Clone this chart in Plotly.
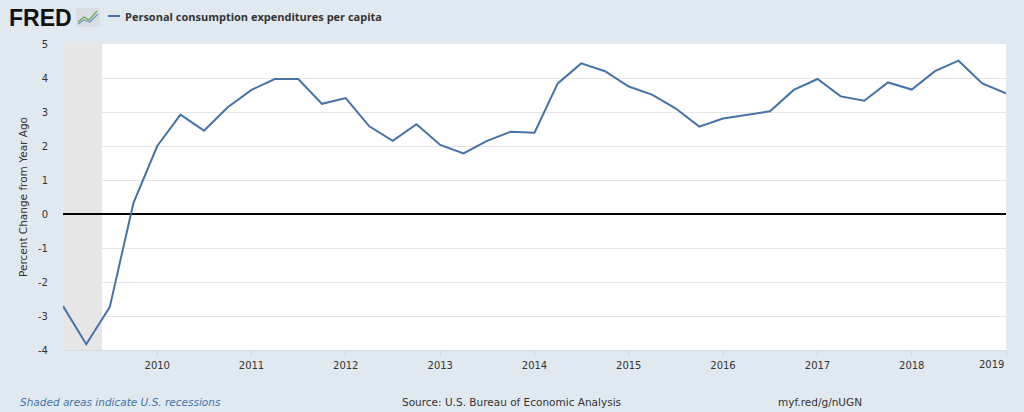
import plotly.graph_objects as go

dates = [f"{y}-{m:02d}-01" for y in range(2009, 2019) for m in (1, 4, 7, 10)] + ["2019-01-01"]
values = [-2.71, -3.83, -2.74, 0.33,
          2.00, 2.92, 2.45, 3.14,
          3.65, 3.97, 3.97, 3.24,
          3.41, 2.58, 2.15, 2.64,
          2.03, 1.78, 2.15, 2.42,
          2.39, 3.84, 4.43, 4.20,
          3.75, 3.51, 3.11, 2.57,
          2.81, 2.92, 3.02, 3.65,
          3.97, 3.46, 3.33, 3.87,
          3.66, 4.20, 4.51, 3.84,
          3.55]
recession = ("2009-01-01", "2009-06-01")
xtick_vals = [f"{y}-01-01" for y in range(2010, 2020)]
xtick_text = [str(y) for y in range(2010, 2019)] + [""]
ytick_vals = [-4, -3, -2, -1, 0, 1, 2, 3, 4, 5]
ytick_text = ["-4", "-3", "-2", "-1", "0", "1", "2", "3", "4", "5"]
series_name = "Personal consumption expenditures per capita"
line_color = "#4572a7"
font = "DejaVu Sans"

# pixel helpers for decorative header/footer placement (plot area 63..1006 x 44..350)
L, R, T, B = 63, 1006, 44, 350
def px(x):
    return (x - L) / (R - L)
def py(y):
    return (B - y) / (B - T)

fig = go.Figure()
fig.add_trace(go.Scatter(x=dates, y=values, mode="lines", name=series_name,
                         line=dict(color=line_color, width=2), showlegend=False))

fig.add_vrect(x0=recession[0], x1=recession[1], fillcolor="#e6e6e6", line_width=0, layer="below")

fig.update_layout(
    width=1024, height=412,
    margin=dict(l=L, r=1024 - R, t=T, b=412 - B),
    paper_bgcolor="#e1e9f0", plot_bgcolor="#ffffff",
    font=dict(family=font, size=10, color="#333333"),
    xaxis=dict(range=["2009-01-01", "2019-01-01"], tickvals=xtick_vals, ticktext=xtick_text,
               showgrid=False, ticks="outside", ticklen=6, tickcolor="#cfd9e3",
               showline=True, linecolor="#d3dce6", linewidth=1, zeroline=False, automargin=False,
               tickfont=dict(family=font, size=10, color="#333333")),
    yaxis=dict(range=[-4, 5], tickvals=ytick_vals, ticktext=ytick_text,
               showgrid=True, gridcolor="#e6e6e6",
               zeroline=True, zerolinecolor="#000000", zerolinewidth=2,
               ticks="outside", ticklen=12, tickcolor="rgba(0,0,0,0)", automargin=False,
               tickfont=dict(family=font, size=10, color="#333333"),
               title=dict(text="Percent Change from Year Ago",
                          font=dict(family=font, size=10.5, color="#333333"), standoff=8)),
)

# last year label aligned to the right edge, like the reference
fig.add_annotation(xref="x", yref="paper", x="2019-01-01", y=py(364), xanchor="right", yanchor="middle",
                   text="2019", showarrow=False, font=dict(family=font, size=10, color="#333333"))

# FRED logo
fig.add_annotation(xref="paper", yref="paper", x=px(7), y=py(18), xanchor="left", yanchor="middle",
                   text="<b>FRED</b>", showarrow=False,
                   font=dict(family="Liberation Sans", size=23, color="#111111"))
fig.add_shape(type="rect", xref="paper", yref="paper", x0=px(76), x1=px(100), y0=py(27), y1=py(8),
              fillcolor="#d9dee4", line_width=0)
fig.add_shape(type="path", xref="paper", yref="paper",
              path=f"M {px(78)} {py(22)} L {px(84)} {py(17)} L {px(89)} {py(20)} L {px(97)} {py(11)}",
              line=dict(color="#6aa84f", width=1.2))
fig.add_shape(type="path", xref="paper", yref="paper",
              path=f"M {px(78)} {py(24)} L {px(84)} {py(20)} L {px(90)} {py(22)} L {px(98)} {py(14)}",
              line=dict(color="#6f93c1", width=1.2))

# legend
fig.add_shape(type="line", xref="paper", yref="paper", x0=px(108), x1=px(120), y0=py(16), y1=py(16),
              line=dict(color=line_color, width=2))
fig.add_annotation(xref="paper", yref="paper", x=px(123), y=py(16), xanchor="left", yanchor="middle",
                   text=f"<b>{series_name}</b>",
                   showarrow=False, font=dict(family="Open Sans", size=11, color="#333333"))

# footer
fig.add_annotation(xref="paper", yref="paper", x=px(18), y=py(402), xanchor="left", yanchor="middle",
                   text="<i>Shaded areas indicate U.S. recessions</i>", showarrow=False,
                   font=dict(family=font, size=10.5, color="#4572a7"))
fig.add_annotation(xref="paper", yref="paper", x=px(400), y=py(402), xanchor="left", yanchor="middle",
                   text="Source: U.S. Bureau of Economic Analysis", showarrow=False,
                   font=dict(family=font, size=10.5, color="#333333"))
fig.add_annotation(xref="paper", yref="paper", x=px(776), y=py(402), xanchor="left", yanchor="middle",
                   text="myf.red/g/nUGN", showarrow=False,
                   font=dict(family=font, size=10.5, color="#333333"))

fig.write_html("out.html")
